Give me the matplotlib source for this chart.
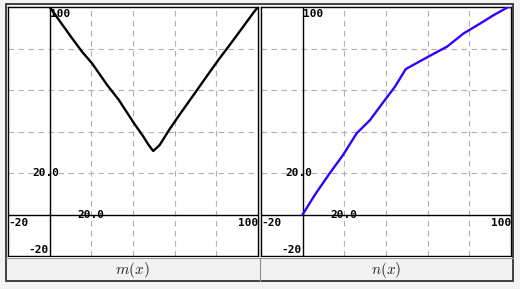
import matplotlib.pyplot as plt
from matplotlib.patches import Rectangle
from matplotlib.lines import Line2D

# data
m_x = [0, 5, 10.7, 15.5, 20.3, 27.6, 33.2, 40.4, 45, 47.5, 49.7, 52.8, 57.5, 62.9, 69, 75.8, 81, 87, 92.5, 98, 100]
m_y = [100, 93, 85, 78.5, 72.9, 62.4, 55.2, 44.1, 37.5, 33.5, 30.6, 33.5, 41, 48.9, 57.5, 67.2, 74.5, 82.5, 90, 97.5, 100]

n_x = [0, 5.8, 13, 19.4, 25.9, 32.3, 39.5, 44.3, 49.5, 58, 63.5, 69.3, 77.3, 85.3, 91.7, 98.5, 100]
n_y = [0, 9.4, 19.9, 28.7, 39.1, 45.5, 55.2, 61.6, 70.1, 74.8, 77.8, 80.9, 87.3, 92.1, 96.1, 99.9, 100]

labels = ["m(x)", "n(x)"]
grid_ticks = [20, 40, 60, 80]

W, H = 520, 289
bg = "#f3f3f3"

fig = plt.figure(figsize=(W / 100, H / 100), dpi=100, facecolor=bg)


def fbox(x0, y0, x1, y1):
    # pixel box (top-left origin) -> figure fraction [l, b, w, h]
    return [x0 / W, 1 - y1 / H, (x1 - x0) / W, (y1 - y0) / H]


# label strip and outer frame
l, b, w, h = fbox(6, 257, 513, 281)
fig.patches.append(Rectangle((l, b), w, h, transform=fig.transFigure,
                             facecolor="#f2f2f2", edgecolor="none", zorder=0))
fig.add_artist(Line2D([6 / W, 513 / W], [1 - 258 / H] * 2, color="#9a9a9a", lw=0.8))
fig.add_artist(Line2D([259.5 / W] * 2, [1 - 258 / H, 1 - 281 / H], color="#8a8a8a", lw=0.8))
l, b, w, h = fbox(6, 4, 513, 281)
fig.add_artist(Rectangle((l, b), w, h, transform=fig.transFigure,
                         facecolor="none", edgecolor="#333333", lw=1.3))

mono = dict(family="DejaVu Sans Mono", weight="bold", size=8, color="black")

panels = [((8, 258), m_x, m_y, "black"), ((261, 511), n_x, n_y, "#3300ff")]

for i, ((x0, x1), xs, ys, col) in enumerate(panels):
    ax = fig.add_axes(fbox(x0, 7, x1, 256))
    ax.set_xlim(-20, 100)
    ax.set_ylim(-20, 100)
    ax.set_xticks([])
    ax.set_yticks([])
    for s in ax.spines.values():
        s.set_linewidth(1.0)
    for t in grid_ticks:
        ax.axvline(t, color="#b0b0b0", lw=0.8, ls=(0, (5, 4)), zorder=1)
        ax.axhline(t, color="#b0b0b0", lw=0.8, ls=(0, (5, 4)), zorder=1)
    ax.axhline(0, color="black", lw=1.0, zorder=2)
    ax.axvline(0, color="black", lw=1.0, zorder=2)
    ax.plot(xs, ys, color=col, lw=1.7, zorder=3, solid_joinstyle="round")

    op = "offset pixels"
    ax.annotate("100", (0, 100), xytext=(0, -2), textcoords=op, ha="left", va="top", **mono)
    ax.annotate("20.0", (0, 20), xytext=(-4, 0), textcoords=op, ha="center", va="center", **mono)
    ax.annotate("20.0", (20, 0), xytext=(0, -1), textcoords=op, ha="center", va="center", **mono)
    ax.annotate("-20", (-20, 0), xytext=(0, -3), textcoords=op, ha="left", va="top", **mono)
    ax.annotate("100", (100, 0), xytext=(0, -3), textcoords=op, ha="right", va="top", **mono)
    ax.annotate("-20", (0, -20), xytext=(-1, 1), textcoords=op, ha="right", va="bottom", **mono)

    cx = (6 + 259.5) / 2 if i == 0 else (259.5 + 513) / 2
    fig.text(cx / W, 1 - 270 / H, "$" + labels[i] + "$", ha="center", va="center",
             fontsize=11, math_fontfamily="cm", color="#222222")

fig.savefig("out.png", dpi=100, facecolor=bg)
